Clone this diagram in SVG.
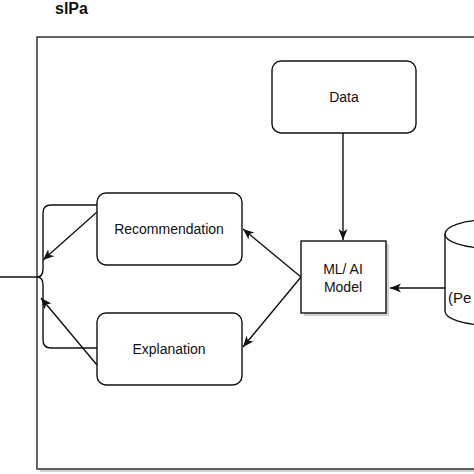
<svg xmlns="http://www.w3.org/2000/svg" width="474" height="474" viewBox="0 0 474 474">
<style>
.t{font-family:"Liberation Sans",Arial,sans-serif;font-size:14px;fill:#111;text-anchor:middle}
.b{fill:#fff;stroke:#111;stroke-width:1.4}
.c{fill:none;stroke:#111;stroke-width:1.4}
.sh{fill:#000;opacity:0.18}
</style>
<defs>
<marker id="ah" markerUnits="userSpaceOnUse" markerWidth="12" markerHeight="10" viewBox="0 0 12 10" refX="11" refY="5" orient="auto">
<path d="M0,0.5 L11,5 L0,9.5 L3,5 Z" fill="#111"/>
</marker>
</defs>
<rect width="474" height="474" fill="#fff"/>
<text x="55" y="14" style="font-family:'Liberation Sans',Arial,sans-serif;font-size:16px;font-weight:bold;fill:#111">slPa</text>
<g id="frame">
<rect x="40" y="40" width="450" height="432" class="sh"/>
<rect x="37" y="37" width="450" height="432" fill="#fff" stroke="#333" stroke-width="1.5"/>
</g>
<g id="data">
<rect x="272" y="61" width="144" height="72" rx="9" class="b"/>
<text x="344" y="102" class="t">Data</text>
</g>
<g id="model">
<rect x="304" y="244" width="85" height="72" class="sh"/>
<rect x="301" y="241" width="85" height="72" class="b"/>
<text x="343" y="274" class="t">ML/ AI</text>
<text x="343" y="292" class="t">Model</text>
</g>
<g id="recommendation">
<rect x="97" y="193" width="145" height="72" rx="9" class="b"/>
<text x="169" y="234" class="t">Recommendation</text>
</g>
<g id="explanation">
<rect x="97" y="313" width="145" height="72" rx="9" class="b"/>
<text x="169" y="354" class="t">Explanation</text>
</g>
<g id="store">
<path d="M445,234 A42,14 0 0 1 529,234 V311 A42,14 0 0 1 445,311 Z" class="b"/>
<path d="M445,234 A42,14 0 0 0 529,234" class="c"/>
<text x="448" y="303" style="font-family:'Liberation Sans',Arial,sans-serif;font-size:15px;fill:#111">(Pe</text>
</g>
<g id="connectors">
<path d="M343,133 V240" class="c" marker-end="url(#ah)"/>
<path d="M445,288 H390" class="c" marker-end="url(#ah)"/>
<path d="M301,277 L243,229" class="c" marker-end="url(#ah)"/>
<path d="M301,277 L243,347" class="c" marker-end="url(#ah)"/>
<path d="M0,277 H37" class="c"/>
<path d="M97,205 H51 Q43,205 43,213 V269 Q43,277 37,277 Q43,277 43,285 V340 Q43,348 51,348 H97" class="c"/>
<path d="M97,212 L43,260" class="c" marker-end="url(#ah)"/>
<path d="M97,365 L41,298" class="c" marker-end="url(#ah)"/>
</g>
</svg>
